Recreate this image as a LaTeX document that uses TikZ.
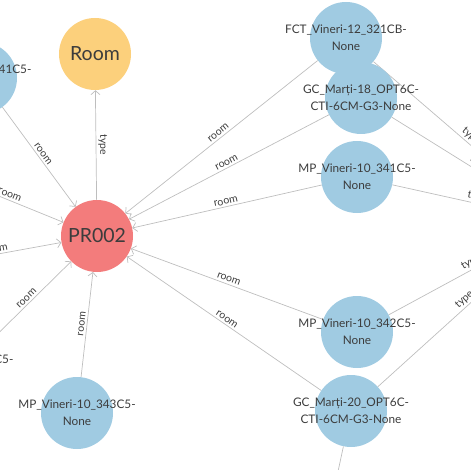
\documentclass[tikz,border=0pt]{standalone}
\usepackage{fontspec}
\setmainfont{Lato}
\usetikzlibrary{arrows.meta,backgrounds}

\definecolor{sessblue}{RGB}{160,203,226}
\definecolor{roomred}{RGB}{243,124,124}
\definecolor{classyellow}{RGB}{252,208,124}
\definecolor{edgegray}{RGB}{190,190,190}
\definecolor{textgray}{RGB}{60,60,60}

\tikzset{
  bubble/.style={circle,minimum size=72pt,inner sep=0pt},
  session/.style={bubble,fill=sessblue},
  sesstext/.style={align=center,text=textgray,font=\fontsize{11.8}{17}\selectfont},
  bigtext/.style={text=textgray,font=\fontsize{19.5}{24}\selectfont},
  rel/.style={edgegray,line width=0.7pt,-{Straight Barb[length=4pt,width=9pt]}},
  relin/.style={edgegray,line width=0.7pt,{Straight Barb[length=4pt,width=9pt]}-},
  rellabel/.style={sloped,above,midway,text=textgray,inner sep=2pt,font=\fontsize{10.5}{12}\selectfont}
}

\begin{document}
\begin{tikzpicture}[x=1pt,y=-1pt]
  \useasboundingbox (0,0) rectangle (470,470);

  % Room and class
  \node[bubble,fill=roomred,bigtext] (pr) at (97,236) {PR002};
  \node[bubble,fill=classyellow,bigtext] (room) at (95,54) {Room};

  % Sessions
  \node[session,label={[sesstext]center:MP\_Joi-10\_341C5-\\None}] (joi) at (-19,78) {};
  \node[session,label={[sesstext]center:MP\_Joi-12\_342C5-\\None}] (joib) at (-37,368) {};
  \node[session,label={[sesstext]center:MP\_Vineri-10\_343C5-\\None}] (mp343) at (77,413) {};
  \node[session,label={[sesstext]center:FCT\_Vineri-12\_321CB-\\None}] (fct) at (346,38) {};
  \node[session,label={[sesstext]center:GC\_Marți-18\_OPT6C-\\CTI-6CM-G3-None}] (gc18) at (361,98) {};
  \node[session,label={[sesstext]center:MP\_Vineri-10\_341C5-\\None}] (mp341) at (357,177) {};
  \node[session,label={[sesstext]center:MP\_Vineri-10\_342C5-\\None}] (mp342) at (357,332) {};
  \node[session,label={[sesstext]center:GC\_Marți-20\_OPT6C-\\CTI-6CM-G3-None}] (gc20) at (351,411) {};

  % Off the page
  \coordinate (westa) at (-48,177);
  \coordinate (westb) at (-68,266);
  \coordinate (course) at (560,222);
  \coordinate (south) at (319,560);

  % Links
  \begin{pgfonlayer}{background}
    \draw[relin] (room) -- node[rellabel]{type} (pr);
    \draw[rel] (joi) -- node[rellabel]{room} (pr);
    \draw[rel] (westa) -- node[rellabel]{room} (pr);
    \draw[rel] (westb) -- node[rellabel]{room} (pr);
    \draw[rel] (joib) -- node[rellabel]{room} (pr);
    \draw[rel] (mp343) -- node[rellabel]{room} (pr);
    \draw[rel] (fct) -- node[rellabel]{room} (pr);
    \draw[rel] (gc18) -- node[rellabel]{room} (pr);
    \draw[rel] (mp341) -- node[rellabel]{room} (pr);
    \draw[rel] (mp342) -- node[rellabel]{room} (pr);
    \draw[rel] (gc20) -- node[rellabel]{room} (pr);

    % type links
    \draw[rel] (fct) -- node[rellabel]{type} (course);
    \draw[rel] (gc18) -- node[rellabel]{type} (course);
    \draw[rel] (mp341) -- node[rellabel]{type} (course);
    \draw[rel] (mp342) -- node[rellabel]{type} (course);
    \draw[rel] (gc20) -- node[rellabel]{type} (course);
    \draw[rel] (gc20) -- (south);
  \end{pgfonlayer}
\end{tikzpicture}
\end{document}
